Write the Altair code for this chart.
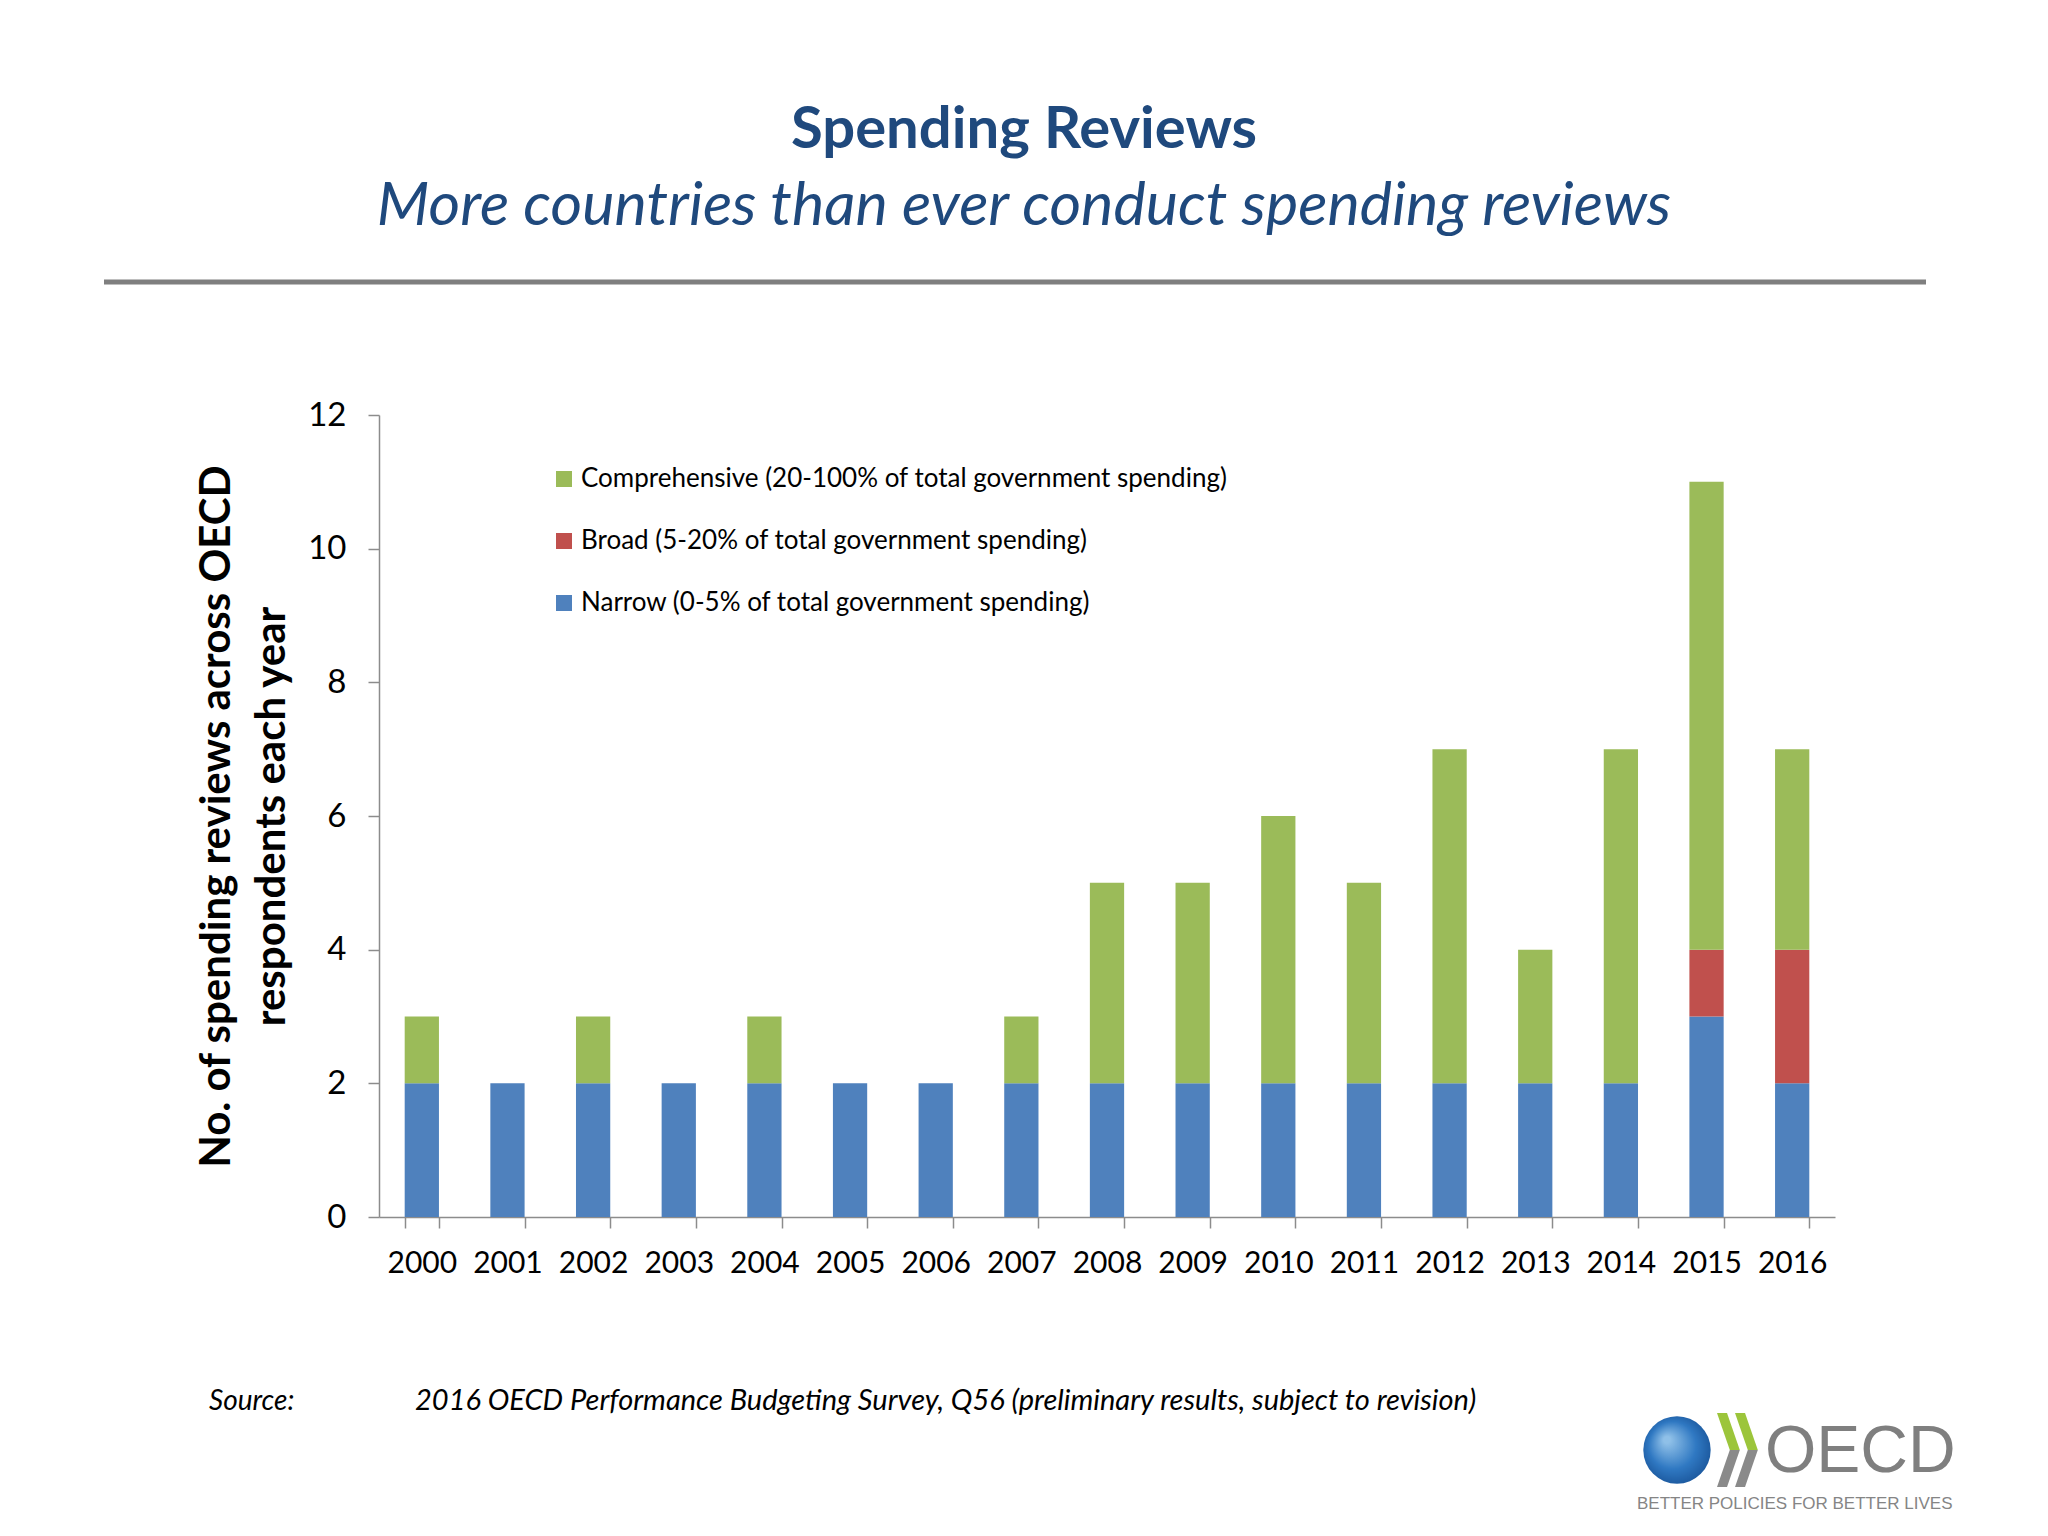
import altair as alt
import pandas as pd

# Survey counts per year, by breadth of the spending review
years = ["2000", "2001", "2002", "2003", "2004", "2005", "2006", "2007", "2008",
         "2009", "2010", "2011", "2012", "2013", "2014", "2015", "2016"]
narrow = [2, 2, 2, 2, 2, 2, 2, 2, 2, 2, 2, 2, 2, 2, 2, 3, 2]
broad = [0, 0, 0, 0, 0, 0, 0, 0, 0, 0, 0, 0, 0, 0, 0, 1, 2]
comprehensive = [1, 0, 1, 0, 1, 0, 0, 1, 3, 3, 4, 3, 5, 2, 5, 7, 3]

series_names = [
    "Comprehensive (20-100% of total government spending)",
    "Broad (5-20% of total government spending)",
    "Narrow (0-5% of total government spending)",
]
series_colors = ["#9BBB59", "#C0504D", "#4F81BD"]
y_ticks = [0, 2, 4, 6, 8, 10, 12]

title_text = "Spending Reviews"
subtitle_text = "More countries than ever conduct spending reviews"
y_title = ["No. of spending reviews across  OECD", "respondents each year"]
source_label = "Source:"
source_text = "2016 OECD Performance Budgeting Survey, Q56 (preliminary results, subject to revision)"

# Long table: stack rank 0 = bottom (Narrow), 2 = top (Comprehensive)
rows = []
for i, yr in enumerate(years):
    for rank, (name, vals) in enumerate(zip(series_names[::-1], [narrow, broad, comprehensive])):
        if vals[i] > 0:
            rows.append({"year": yr, "series": name, "value": vals[i], "rank": rank})
df = pd.DataFrame(rows)

FONT = "Lato"
W, H = 1456, 802
LEFT, TOP = 379, 415

bars = alt.Chart(df).mark_bar().encode(
    x=alt.X("year:N", sort=years,
            scale=alt.Scale(paddingInner=0.6, paddingOuter=0.3),
            axis=alt.Axis(title=None, labelAngle=0, labelFont=FONT, labelFontSize=30,
                          labelColor="#000000", tickBand="extent", tickColor="#8C8C8C",
                          domainColor="#8C8C8C", tickSize=11, tickWidth=1.5,
                          domainWidth=1.5, labelPadding=20)),
    y=alt.Y("value:Q", stack="zero",
            scale=alt.Scale(domain=[0, 12], nice=False),
            axis=alt.Axis(values=y_ticks, grid=False, title=y_title,
                          labelFont=FONT, labelFontSize=33, labelColor="#000000",
                          labelPadding=22, tickSize=11, tickWidth=1.5, tickColor="#8C8C8C",
                          domainColor="#8C8C8C", domainWidth=1.5,
                          titleFont=FONT, titleFontWeight="bold", titleFontSize=42,
                          titleColor="#000000", titleX=-163, titleY=H / 2,
                          titleAngle=270, titleAlign="center", titleBaseline="middle",
                          titleLineHeight=55)),
    color=alt.Color("series:N",
                    scale=alt.Scale(domain=series_names, range=series_colors),
                    legend=alt.Legend(title=None, orient="none", legendX=172, legendY=51,
                                      symbolType="square", symbolSize=256,
                                      symbolStrokeWidth=0, labelFont=FONT,
                                      labelFontSize=26, labelColor="#000000",
                                      labelOffset=4, rowPadding=36, labelLimit=900)),
    order=alt.Order("rank:Q", sort="ascending"),
)

one = pd.DataFrame({"k": [0]})


def text_at(text, x, y, **kw):
    return alt.Chart(one).mark_text(text=text, **kw).encode(x=alt.value(x), y=alt.value(y))


title = text_at(title_text, 1024 - LEFT, 148 - TOP, font=FONT, fontSize=58,
                fontWeight="bold", color="#1F497D", align="center", baseline="alphabetic")
subtitle = text_at(subtitle_text, 1024 - LEFT, 225 - TOP, font=FONT, fontSize=61,
                   fontStyle="italic", color="#1F497D", align="center", baseline="alphabetic")

divider = alt.Chart(one).mark_rule(color="#7F7F7F", strokeWidth=5).encode(
    x=alt.value(104 - LEFT), x2=alt.value(1926 - LEFT), y=alt.value(282 - TOP))

src1 = text_at(source_label, 209 - LEFT, 1410 - TOP, font=FONT, fontSize=28,
               fontStyle="italic", color="#000000", align="left", baseline="alphabetic")
src2 = text_at(source_text, 415 - LEFT, 1410 - TOP, font=FONT, fontSize=29,
               fontStyle="italic", color="#000000", align="left", baseline="alphabetic")

# OECD logo: globe, double chevron, wordmark and tagline
globe = alt.Chart(one).mark_circle(
    size=4540, opacity=1,
    color=alt.RadialGradient(gradient="radial", x1=0.35, y1=0.35, r1=0.05, x2=0.5, y2=0.5, r2=0.6,
                             stops=[alt.GradientStop(color="#8FC0E8", offset=0),
                                    alt.GradientStop(color="#2F78C2", offset=0.55),
                                    alt.GradientStop(color="#164F93", offset=1)]),
).encode(x=alt.value(1677 - LEFT), y=alt.value(1450 - TOP))

chev_top = "M -0.25 -0.925 L 0.0 -0.925 L 0.32 0 L 0.07 0 Z"
chev_bot = "M 0.07 0 L 0.32 0 L 0.0 0.925 L -0.25 0.925 Z"
chevrons = []
for cx in (1727, 1745):
    chevrons.append(alt.Chart(one).mark_point(shape=chev_top, filled=True, size=6400,
                                              color="#9CC53B", opacity=1, strokeWidth=0)
                    .encode(x=alt.value(cx - LEFT), y=alt.value(1450 - TOP)))
    chevrons.append(alt.Chart(one).mark_point(shape=chev_bot, filled=True, size=6400,
                                              color="#8A8A8A", opacity=1, strokeWidth=0)
                    .encode(x=alt.value(cx - LEFT), y=alt.value(1450 - TOP)))

wordmark = text_at("OECD", 1765 - LEFT, 1472 - TOP, font="Liberation Sans", fontSize=66,
                   color="#7F7F7F", align="left", baseline="alphabetic")
tagline = text_at("BETTER POLICIES FOR BETTER LIVES", 1637 - LEFT, 1509 - TOP,
                  font="Liberation Sans", fontSize=17, color="#858585", align="left",
                  baseline="alphabetic")

chart = alt.layer(bars, title, subtitle, divider, src1, src2, globe, *chevrons,
                  wordmark, tagline).properties(
    width=W, height=H,
    autosize=alt.AutoSizeParams(type="none"),
    padding={"left": LEFT, "top": TOP, "right": 2048 - LEFT - W, "bottom": 1536 - TOP - H},
    background="#FFFFFF",
).configure_view(stroke=None)

chart.save("out.html", embed_options={"renderer": "svg", "actions": False})
